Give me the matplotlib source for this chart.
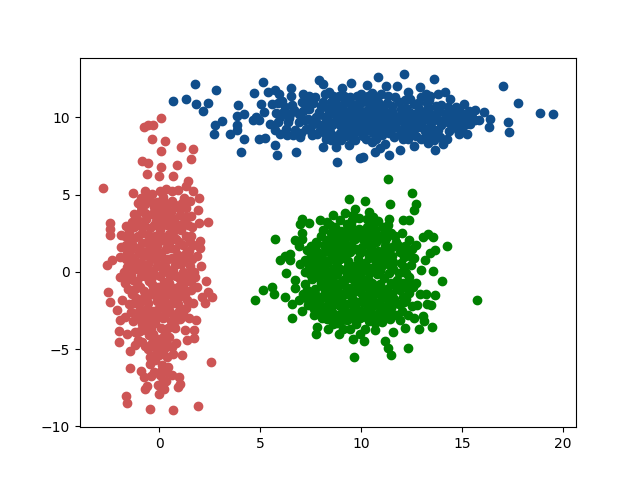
from matplotlib import pyplot as plt

# values, cluster by cluster
red_points = [
    (0.1, 9.95), (-0.76, 9.37), (-0.53, 9.48), (-0.31, 9.52), (-0.35, 8.6), (0.31, 8.48), (0.11, 7.84),
    (1.09, 8.08), (1.67, 7.93), (1.58, 7.28), (-0.87, 7.15), (-0.54, 7.04), (0.1, 6.76), (0.87, 6.94),
    (-0.59, 6.35), (-0.02, 6.22), (0.68, 6.22), (1.44, 5.86), (1.35, 5.58), (-2.8, 5.45), (-1.3, 5.1),
    (-0.68, 5.2), (-0.36, 5.06), (0.05, 5.2), (0.35, 5.38), (0.66, 5.25), (0.93, 5.32), (1.7, 5.2),
    (1.22, 4.8), (1.95, 4.8), (1.53, 4.58), (1.93, 4.0), (1.0, 4.15), (0.2, 4.85), (0.66, 4.6),
    (-0.7, 4.4), (-0.25, 4.2), (-1.25, 3.75), (2.41, 3.22), (1.95, 3.16), (1.62, 2.9), (-2.43, 3.16),
    (-2.43, 2.8), (-2.43, 2.41), (-1.65, 2.96), (-1.9, 2.41), (-1.88, 1.6), (-1.4, 1.46), (2.03, 2.0),
    (2.0, 1.54), (1.9, 1.02), (2.06, 0.38), (-2.59, 0.42), (-2.34, 0.74), (-1.93, 0.96),
    (-1.93, -0.34), (-2.51, -1.28), (-2.43, -1.95), (-2.1, -2.49), (-1.93, -3.14), (-1.85, -1.84),
    (-2.01, -3.85), (-2.01, -4.54), (-1.57, -4.05), (-1.19, -3.9), (-1.44, -5.15), (-1.19, -4.76),
    (-0.83, -4.54), (-1.42, -6.25), (-0.88, -6.44), (-0.74, -6.83), (-0.58, -7.35), (-0.69, -7.6),
    (-1.65, -8.0), (-1.57, -8.45), (-0.45, -8.9), (0.71, -8.96), (1.91, -8.66), (2.59, -5.81),
    (-0.03, -7.93), (0.26, -7.56), (-0.06, -7.3), (1.04, -7.24), (0.93, -7.46), (1.0, -6.81),
    (0.63, -6.7), (0.05, -6.7), (0.46, -6.14), (0.0, -5.36), (-0.45, -5.99), (-0.2, -5.73), (0.13, -6.05),
    (1.12, -5.38), (0.71, -5.3), (0.84, -4.58), (0.38, -4.65), (0.63, -4.87), (1.73, -4.3), (1.37, -4.43),
    (1.73, -3.74), (1.83, -3.14), (1.29, -3.79), (1.04, -3.07), (1.32, -2.36), (1.67, -2.02), (2.28, -2.02),
    (2.6, -1.63), (2.11, -1.63), (2.41, -1.3), (2.31, -0.61), (1.87, -0.98), (1.78, -0.34),
    (0.1, -6.4), (-0.1, -5.0), (-0.35, -4.6), (0.15, -4.3), (-0.5, -4.1), (0.45, -3.6), (-0.85, -3.4),
    (-0.2, -3.3), (0.2, -3.0), (-1.3, -3.15), (-0.6, -2.9), (0.55, -2.6), (-1.0, -2.5), (-0.1, -2.45),
    (0.95, -2.1), (-1.5, -2.1), (-0.55, -2.0), (0.3, -1.95), (-1.15, -1.7), (0.7, -1.6), (-0.2, -1.5),
    (1.3, -1.4), (-0.75, -1.25), (0.15, -1.15), (-1.55, -1.1), (0.95, -1.0), (-0.35, -0.8), (0.5, -0.7),
    (-1.1, -0.65), (1.4, -0.6), (-0.7, -0.3), (0.05, -0.3), (0.85, -0.25), (-1.4, -0.2), (1.2, 0.0),
    (-0.3, 0.05), (0.45, 0.1), (-0.95, 0.15), (-1.6, 0.3), (1.55, 0.35), (0.1, 0.4), (0.8, 0.45),
    (-0.55, 0.5), (-1.2, 0.7), (1.25, 0.75), (-0.15, 0.8), (0.45, 0.85), (-0.8, 1.0), (0.95, 1.1),
    (0.1, 1.2), (-0.4, 1.3), (1.5, 1.35), (-1.0, 1.55), (0.55, 1.55), (-0.1, 1.7), (1.2, 1.75),
    (-0.6, 1.9), (0.3, 2.0), (0.85, 2.1), (-1.25, 2.2), (-0.2, 2.3), (1.35, 2.35), (0.5, 2.45),
    (-0.85, 2.5), (-1.5, 2.6), (0.05, 2.7), (0.95, 2.75), (-0.45, 2.85), (0.4, 3.0), (-1.0, 3.05),
    (1.25, 3.2), (-0.15, 3.3), (0.75, 3.35), (-0.65, 3.45), (0.2, 3.6), (-0.35, 3.75), (0.6, 3.85),
    (-0.9, 3.95), (0.05, 4.05), (0.4, 4.3), (-0.45, 4.6), (0.75, 3.4), (-0.05, -0.95), (-0.9, -1.9),
    (0.6, -3.2), (-0.4, -3.7), (0.95, 0.7), (-0.25, 2.0), (0.3, -2.4), (-1.35, 0.95), (1.7, 1.75),
    # dense middle of the cluster
    (-0.9, 4.75), (-0.1, 4.5), (0.25, 4.55), (0.8, 4.3), (1.35, 4.1), (1.6, 3.6), (1.05, 3.65), (-0.7, 3.8),
    (-0.05, 3.65), (0.45, 3.55), (1.45, 3.0), (1.1, 2.7), (0.7, 2.9), (0.15, 3.1), (-0.25, 3.0), (-0.75, 3.0),
    (-1.25, 2.9), (-1.7, 2.3), (-1.45, 2.0), (-1.05, 2.35), (-0.55, 2.4), (0.1, 2.3), (0.7, 2.35), (1.6, 2.3),
    (1.55, 1.9), (1.0, 1.95), (0.55, 2.0), (0.0, 2.0), (-0.45, 1.7), (-0.85, 1.85), (-1.3, 1.7), (-1.6, 1.2),
    (-1.0, 1.2), (-0.6, 1.35), (-0.2, 1.25), (0.35, 1.5), (0.8, 1.5), (1.35, 1.2), (1.65, 0.85), (1.1, 0.5),
    (0.65, 0.9), (0.25, 0.8), (-0.4, 0.8), (-0.9, 0.6), (-1.45, 0.55), (-1.75, 0.0), (-1.2, 0.2), (-0.65, 0.1),
    (-0.1, 0.35), (0.3, 0.4), (0.7, 0.05), (1.5, -0.15), (1.05, -0.45), (0.55, -0.3), (0.2, 0.0), (-0.35, -0.35),
    (-0.9, -0.25), (-1.3, -0.55), (-1.7, -0.75), (-0.95, -0.95), (-0.5, -0.6), (0.25, -0.65), (0.7, -1.05),
    (1.2, -0.95), (1.6, -1.2), (1.0, -1.6), (0.4, -1.45), (-0.1, -1.9), (-0.5, -1.5), (-1.35, -1.4), (-1.0, -2.1),
    (-1.4, -2.6), (-1.7, -2.9), (-0.7, -2.45), (-0.35, -2.5), (0.1, -2.0), (0.6, -2.1), (1.0, -2.5), (0.85, -3.1),
    (-0.05, -2.9), (-0.55, -3.4), (-1.1, -3.0), (-0.95, -3.8), (0.1, -3.6), (0.3, -3.95), (-0.2, -4.3), (-0.7, -4.8),
    (0.0, -4.75), (0.4, -5.5), (-0.25, -6.5), (0.35, -7.05), (-0.25, -3.0), (-0.9, 4.25), (0.3, 3.95), (-1.35, 3.2),
    (-0.55, 4.9), (-1.05, 4.45), (1.35, 3.55), (1.15, 4.45), (-1.1, 3.45), (0.95, 3.05), (-1.65, 1.75), (-1.65, 0.85),
    (1.75, 0.0), (1.6, -0.6), (1.15, -0.2), (-1.55, -0.45), (-1.2, -1.1), (-0.75, -1.65), (-0.3, -1.15), (0.4, -1.05),
    (1.4, -1.85), (1.05, -1.3), (0.6, -1.35), (0.15, -1.65), (-1.25, -2.0), (-0.8, -2.8), (-0.35, -3.0), (0.3, -2.75),
    (0.75, -2.85), (1.25, -2.85), (-0.3, -4.0), (-0.65, -3.75), (0.5, -4.2), (0.8, -3.6), (-1.05, -4.4), (-0.55, -5.0),
    (-0.2, -5.35), (0.25, -5.0), (-0.45, -5.5), (0.4, -6.45), (0.2, -7.0), (-0.4, -6.75), (1.5, -3.0),
]

blue_points = [
    (1.77, 12.18), (2.82, 11.77), (0.71, 11.05), (1.34, 11.18), (1.83, 10.86), (2.44, 10.95), (2.18, 10.43),
    (3.91, 10.78), (4.7, 11.55), (5.13, 12.28), (5.02, 10.88), (3.1, 9.76), (2.77, 9.48), (2.72, 8.94),
    (3.88, 10.06), (4.21, 10.21), (3.88, 9.48), (3.88, 9.16), (3.51, 8.92), (4.21, 8.58), (4.04, 7.73),
    (4.64, 9.8), (4.8, 10.02), (4.95, 9.8), (4.92, 8.58), (5.25, 8.66), (5.74, 8.19), (5.86, 7.56),
    (6.77, 7.73), (5.41, 11.64), (5.74, 11.79), (5.95, 11.53), (6.52, 11.86), (6.52, 11.36), (7.11, 11.53),
    (5.58, 10.88), (5.9, 10.9), (5.2, 10.34), (5.5, 9.59), (5.74, 9.16), (6.32, 8.83), (6.98, 8.72),
    (7.56, 8.83), (8.13, 8.08), (8.75, 8.08), (8.8, 7.13), (9.42, 8.19), (7.89, 12.39), (8.13, 12.14),
    (9.49, 12.2), (9.04, 11.86), (9.95, 7.37), (10.83, 12.57), (12.1, 12.77), (13.61, 12.48), (10.28, 12.07),
    (11.22, 12.03), (11.77, 12.03), (17.04, 12.05), (17.76, 10.91), (18.85, 10.3), (19.52, 10.21),
    (17.26, 9.7), (17.33, 9.05), (16.35, 9.4), (16.39, 9.91), (16.1, 10.34), (15.64, 10.45), (15.07, 10.88),
    (15.81, 9.8), (15.23, 8.94), (14.85, 8.94), (14.49, 10.02), (14.37, 9.11), (14.24, 8.62), (14.07, 8.25),
    (13.66, 7.91), (13.3, 8.34), (12.62, 8.12), (11.93, 7.91), (11.4, 7.56), (10.69, 7.75), (10.08, 7.41),
    (10.94, 8.04), (14.16, 11.64), (13.8, 11.53), (12.92, 11.96), (12.34, 11.64), (13.22, 11.53),
    (14.41, 11.15), (14.32, 10.67), (10.53, 11.57), (15.5, 10.0), (15.2, 9.55), (14.9, 10.35), (15.35, 10.4),
    (14.85, 9.5), (6.1, 10.3), (6.4, 9.7), (6.0, 8.9), (6.6, 10.8), (6.9, 10.2), (6.75, 9.2), (7.2, 9.8),
    (7.05, 11.0), (7.4, 10.5), (7.45, 9.3), (7.7, 11.3), (7.75, 10.0), (7.8, 8.9), (8.0, 10.7), (8.05, 9.5),
    (8.2, 11.5), (8.25, 8.6), (8.4, 10.2), (8.45, 9.05), (8.5, 11.0), (8.7, 9.7), (8.75, 10.6), (8.8, 8.6),
    (8.9, 11.4), (9.0, 10.1), (9.05, 9.2), (9.15, 10.9), (9.25, 8.8), (9.3, 9.7), (9.4, 10.4), (9.45, 11.3),
    (9.5, 9.1), (9.65, 10.0), (9.7, 8.5), (9.75, 10.8), (9.9, 9.5), (10.0, 11.5), (10.05, 10.3), (10.1, 8.8),
    (10.25, 9.9), (10.3, 11.0), (10.4, 9.2), (10.5, 10.5), (10.55, 8.4), (10.7, 9.7), (10.75, 11.2),
    (10.85, 10.1), (10.9, 8.9), (11.0, 9.4), (11.1, 10.7), (11.2, 8.3), (11.3, 9.9), (11.35, 11.4),
    (11.5, 9.2), (11.55, 10.4), (11.65, 8.7), (11.75, 9.7), (11.85, 11.0), (11.95, 10.1), (12.05, 8.6),
    (12.1, 9.3), (12.2, 10.6), (12.35, 9.8), (12.4, 11.2), (12.5, 8.9), (12.6, 10.2), (12.75, 9.4),
    (12.8, 10.9), (12.95, 8.6), (13.05, 10.0), (13.15, 9.1), (13.3, 10.6), (13.35, 11.1), (13.45, 9.6),
    (13.55, 8.8), (13.7, 10.2), (13.8, 9.2), (13.95, 10.8), (14.05, 9.7), (14.15, 10.2), (13.9, 8.7),
    (7.6, 10.9), (8.6, 10.35), (9.6, 10.55), (9.2, 9.45), (10.2, 9.55), (10.6, 10.25), (11.4, 10.05),
    (11.0, 9.75), (9.85, 10.2), (8.35, 9.85), (12.2, 9.6), (12.9, 9.9), (9.1, 10.45), (10.95, 10.5),
    # dense middle of the cluster
    (7.1, 10.4), (7.35, 9.9), (7.6, 9.55), (7.95, 9.15), (8.2, 9.0), (8.55, 8.85), (8.95, 8.95), (9.35, 9.0),
    (9.75, 9.05), (10.15, 9.1), (10.6, 9.0), (11.05, 8.85), (11.4, 8.95), (11.9, 8.9), (12.3, 9.0), (12.7, 8.8),
    (13.2, 8.8), (13.6, 9.2), (7.9, 10.35), (8.2, 10.0), (8.55, 9.5), (8.95, 9.5), (9.4, 9.4), (9.8, 9.3),
    (10.3, 9.4), (10.75, 9.3), (11.25, 9.35), (11.7, 9.4), (12.0, 9.2), (12.45, 9.4), (12.95, 9.4), (13.35, 9.3),
    (13.95, 9.5), (8.1, 11.0), (8.35, 10.55), (8.75, 10.15), (9.1, 9.8), (9.5, 9.7), (9.95, 9.8), (10.45, 9.65),
    (10.9, 9.7), (11.25, 9.6), (11.6, 9.7), (12.0, 9.75), (12.5, 9.7), (13.0, 9.7), (13.4, 9.95), (13.8, 9.8),
    (14.3, 9.7), (8.7, 11.05), (9.0, 10.7), (9.35, 10.15), (9.7, 10.25), (10.1, 10.05), (10.5, 9.95), (10.9, 9.95),
    (11.25, 10.2), (11.7, 10.1), (12.1, 10.0), (12.55, 10.0), (13.0, 10.25), (13.45, 10.2), (13.85, 10.4),
    (14.4, 10.35), (9.3, 11.0), (9.55, 10.85), (9.9, 10.5), (10.25, 10.4), (10.7, 10.5), (11.15, 10.4), (11.55, 10.7),
    (11.95, 10.55), (12.35, 10.35), (12.85, 10.5), (13.25, 10.9), (13.7, 10.75), (10.05, 11.0), (10.45, 10.95),
    (10.85, 11.0), (11.3, 10.95), (11.7, 11.3), (12.15, 11.1), (12.6, 10.85), (12.95, 11.3), (9.8, 11.35), (10.35, 11.4),
    (11.0, 11.5), (8.4, 11.6), (8.6, 11.4), (9.15, 11.4), (6.9, 9.7), (7.25, 9.25), (6.5, 10.2), (6.3, 9.25), (6.65, 8.85),
    (5.9, 9.7), (6.1, 11.05), (15.0, 9.9), (14.7, 10.65), (15.4, 9.9), (15.65, 9.8), (14.55, 9.45), (14.8, 9.2), (5.8, 10.25),
    (6.25, 10.65), (6.7, 10.45), (6.45, 9.95), (7.0, 9.0), (7.55, 9.0), (7.3, 10.95), (8.15, 9.3), (7.75, 9.7), (8.5, 8.55),
    (9.0, 8.55), (9.55, 8.7), (10.25, 8.6), (10.75, 8.6), (12.3, 8.6), (13.25, 8.55), (13.6, 8.55), (13.4, 11.4), (7.4, 11.4),
    (6.0, 10.0), (14.7, 9.85), (14.65, 10.2), (15.1, 10.2), (15.4, 9.55), (15.0, 9.25),
]

green_points = [
    (9.41, 4.71), (10.18, 4.61), (9.7, 4.09), (8.6, 3.68), (9.21, 3.81), (7.06, 3.42), (6.95, 3.12),
    (7.44, 3.18), (7.94, 3.33), (8.3, 3.22), (5.74, 2.15), (7.09, 2.54), (6.73, 2.08), (7.06, 2.15),
    (6.9, 1.65), (6.49, 1.18), (6.24, 1.02), (5.99, 0.79), (6.49, 0.74), (6.95, 0.53), (7.51, 1.07),
    (7.81, 1.28), (6.29, -0.08), (6.73, -0.55), (6.73, -1.02), (7.23, -0.76), (5.61, -0.98), (5.15, -1.18),
    (5.69, -1.46), (4.75, -1.83), (6.25, -1.63), (7.46, -1.57), (6.9, -1.84), (6.57, -2.1), (7.06, -2.51),
    (6.6, -2.96), (7.39, -2.17), (7.67, -2.77), (8.3, -3.03), (7.84, -3.57), (7.77, -4.05), (8.38, -3.68),
    (8.88, -4.05), (9.47, -3.72), (9.62, -4.32), (10.16, -4.5), (9.67, -5.53), (10.2, -3.68), (9.95, -2.96),
    (11.32, 6.03), (12.54, 5.1), (11.44, 4.39), (12.72, 4.41), (12.62, 4.03), (12.09, 3.33), (12.38, 3.38),
    (13.3, 2.47), (13.08, 2.25), (13.58, 2.25), (14.24, 1.65), (13.66, 1.39), (13.41, 1.24), (13.17, 0.79),
    (12.71, 1.76), (12.01, 2.54), (12.39, 2.08), (13.56, 0.05), (13.99, -0.57), (12.96, 0.14), (12.72, -0.7),
    (12.92, -1.41), (13.22, -1.41), (13.66, -1.48), (15.76, -1.8), (13.25, -2.06), (13.47, -2.17),
    (12.77, -2.15), (12.64, -3.01), (13.08, -2.86), (13.12, -3.18), (12.87, -3.68), (13.5, -3.59),
    (12.18, -3.64), (11.93, -3.14), (11.73, -2.82), (11.44, -3.03), (11.58, -3.87), (11.05, -3.25),
    (10.69, -3.79), (9.95, -4.0), (11.19, -4.48), (11.35, -4.91), (11.47, -5.36), (12.33, -4.95),
    (11.19, -2.6), (10.64, -2.17), (10.2, -2.6), (12.23, -1.73),
    (8.1, 2.7), (8.7, 2.9), (9.3, 3.1), (9.9, 3.5), (10.4, 3.85), (10.85, 3.3), (11.1, 2.9), (10.3, 2.9),
    (9.6, 2.55), (9.0, 2.2), (8.3, 2.05), (7.75, 1.95), (10.9, 2.35), (11.5, 2.5), (11.75, 1.9), (10.1, 2.1),
    (9.5, 1.75), (8.8, 1.5), (8.2, 1.35), (10.5, 1.6), (11.2, 1.7), (11.9, 1.3), (12.2, 1.15), (9.95, 1.2),
    (9.2, 1.0), (8.55, 0.8), (7.95, 0.6), (7.4, 0.35), (10.75, 1.0), (11.4, 1.05), (11.95, 0.6), (12.45, 0.45),
    (10.2, 0.55), (9.6, 0.4), (8.95, 0.2), (8.3, 0.05), (7.7, -0.1), (11.0, 0.3), (11.6, 0.2), (12.2, -0.1),
    (10.4, -0.1), (9.8, -0.25), (9.2, -0.45), (8.6, -0.6), (8.0, -0.75), (7.55, -0.45), (11.15, -0.4),
    (11.8, -0.5), (12.4, -0.75), (10.55, -0.75), (9.95, -0.9), (9.4, -1.05), (8.8, -1.2), (8.2, -1.35),
    (7.8, -1.55), (11.3, -1.1), (11.9, -1.2), (12.35, -1.35), (10.7, -1.4), (10.1, -1.55), (9.55, -1.7),
    (9.0, -1.85), (8.4, -2.0), (8.0, -2.25), (11.4, -1.8), (11.85, -2.05), (10.85, -2.0), (10.3, -2.15),
    (9.7, -2.3), (9.15, -2.45), (8.55, -2.6), (8.05, -3.0), (9.3, -3.1), (8.8, -3.3), (10.6, -2.85),
    (11.25, -2.2), (12.0, -2.5), (12.5, -2.2), (10.0, 0.05), (10.75, 0.65), (9.35, 2.9), (8.5, 1.15),
    (9.75, -3.4), (10.95, -3.1), (7.2, 0.0), (7.7, 0.95), (7.3, -1.2), (8.45, 3.0), (10.65, 3.1),
    # dense middle of the cluster
    (10.3, 3.4), (9.55, 3.35), (8.95, 3.35), (8.5, 2.5), (9.0, 2.65), (9.5, 3.0), (9.9, 2.75), (10.7, 2.7), (11.35, 3.05),
    (11.7, 2.3), (11.3, 2.25), (10.5, 2.4), (10.05, 2.45), (9.3, 2.25), (8.75, 2.3), (8.0, 2.3), (7.7, 1.6), (8.15, 1.75),
    (8.55, 1.85), (9.15, 1.75), (9.7, 2.1), (10.3, 1.85), (10.75, 1.9), (11.2, 2.0), (11.55, 1.6), (11.85, 1.65), (10.85, 1.35),
    (10.35, 1.25), (9.75, 1.5), (9.3, 1.35), (8.9, 1.1), (8.4, 1.55), (8.0, 1.0), (7.6, 0.65), (8.3, 0.6), (8.8, 0.65),
    (9.35, 0.7), (9.85, 0.85), (10.4, 0.9), (11.05, 0.75), (11.6, 0.65), (12.1, 0.95), (12.4, 1.0), (11.35, 0.5), (10.65, 0.3),
    (10.15, 0.2), (9.7, 0.05), (9.2, 0.1), (8.65, 0.25), (8.05, 0.25), (7.85, -0.35), (8.3, -0.35), (8.8, -0.15), (9.3, -0.1),
    (10.0, -0.4), (10.35, -0.45), (10.8, -0.15), (11.4, -0.1), (11.85, -0.05), (12.35, -0.35), (12.05, -0.75), (11.5, -0.7),
    (10.95, -0.8), (10.3, -0.95), (9.7, -0.65), (9.15, -0.85), (8.55, -0.95), (8.15, -1.05), (7.7, -1.1), (7.85, -1.95),
    (8.35, -1.7), (8.75, -1.6), (9.25, -1.45), (9.7, -1.25), (10.4, -1.35), (10.95, -1.15), (11.55, -1.4), (12.05, -1.6),
    (11.65, -1.75), (11.05, -1.7), (10.55, -1.8), (10.05, -1.95), (9.5, -2.05), (8.95, -2.2), (8.45, -2.35), (8.0, -2.6),
    (8.5, -3.0), (9.0, -2.75), (9.45, -2.65), (10.0, -2.55), (10.45, -2.5), (10.95, -2.5), (11.5, -2.35), (10.8, -2.75),
    (9.55, -3.0), (10.4, -3.2), (10.7, -3.3), (9.1, -3.7), (8.6, -3.4), (11.2, -3.0), (7.5, 1.7), (7.3, 1.4), (7.45, -0.15),
    (7.2, 0.75), (7.1, -1.4), (7.65, -2.4), (12.55, -1.0), (12.6, 0.9), (12.5, 1.45), (11.4, 3.4), (10.6, 3.55), (9.6, 3.7),
    (7.55, 0.1), (8.1, -0.15), (8.55, -0.25), (9.05, -0.6), (9.5, -0.4), (10.2, -0.6), (8.35, -0.7), (8.85, -0.8), (9.35, -1.35),
    (8.6, -1.35), (8.05, -1.7), (9.05, -1.4), (9.95, -1.3), (10.7, -1.1), (11.2, -1.45), (11.75, -1.0), (12.2, -1.0), (12.1, -1.95),
    (11.6, -2.1), (11.05, -2.25), (10.3, -1.75), (9.8, -1.95), (9.25, -2.1), (8.7, -2.05), (8.2, -2.3), (8.3, -2.7), (8.75, -2.8),
    (9.25, -2.8), (9.75, -2.7), (10.25, -2.95), (10.95, -2.8), (9.05, -3.1), (11.45, -2.65), (12.3, -2.8), (7.35, -1.85), (7.6, -1.95),
    (8.75, 1.85), (9.45, 1.3), (10.05, 1.6), (10.6, 1.25), (11.1, 1.3), (11.35, 1.4), (11.55, 1.0), (12.1, 0.3), (12.15, 1.65),
    (11.35, 0.85), (10.95, 0.05), (10.4, 0.25), (9.85, 0.45), (9.35, 0.4), (8.7, 1.05), (8.15, 0.75), (7.8, 0.3), (8.95, 0.85),
    (9.05, 1.45), (8.6, 2.15), (9.25, 2.6), (9.85, 2.35), (10.35, 2.2), (10.25, 2.55), (10.8, 2.1), (11.15, 2.5), (11.0, 1.0),
]

fig = plt.figure(figsize=(6.4, 4.8), dpi=100)
ax = fig.add_subplot(111)

for points, colour in [(red_points, "#CD5555"), (blue_points, "#104E8B"), (green_points, "green")]:
    x = [p[0] for p in points]
    y = [p[1] for p in points]
    ax.scatter(x, y, c=colour)

fig.savefig("out.png", dpi=100)
